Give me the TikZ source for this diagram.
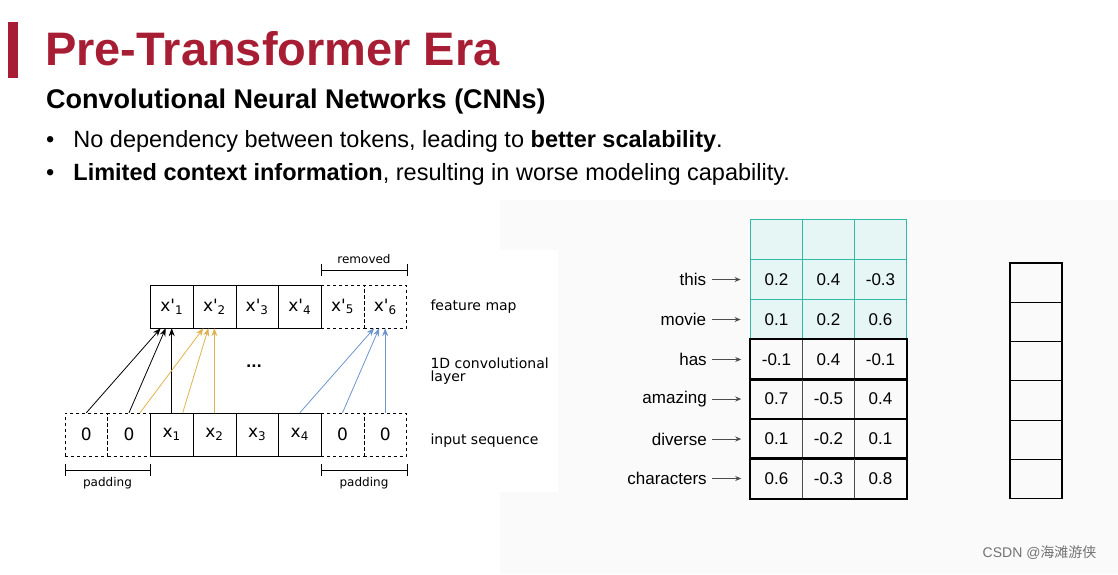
\documentclass[tikz,border=0pt]{standalone}
\usepackage{fontspec}
\setmainfont{Liberation Sans}
\newfontfamily\dvs{DejaVu Sans}
\newfontfamily\cjk{Noto Sans CJK SC}
\usetikzlibrary{arrows.meta}
\definecolor{titlered}{RGB}{167,30,52}
\definecolor{tealb}{RGB}{50,185,165}
\definecolor{tealf}{RGB}{230,246,244}
\definecolor{ylw}{RGB}{222,180,80}
\definecolor{blu}{RGB}{110,150,205}
\tikzset{
 cell/.style={draw,minimum width=42.7pt,minimum height=43pt,inner sep=0pt,font=\dvs\fontsize{17}{17}\selectfont},
 dcell/.style={cell,dashed},
 conn/.style={-{Stealth[length=8pt,width=6pt]},line width=0.8pt},
 lbl/.style={anchor=west,font=\dvs\fontsize{14}{16}\selectfont,align=left},
 small/.style={font=\dvs\fontsize{12}{12}\selectfont},
 tcell/.style={draw,minimum width=52pt,minimum height=40pt,inner sep=0pt,font=\fontsize{17}{17}\selectfont},
 teal/.style={tcell,draw=tealb,fill=tealf,line width=1.8pt},
 word/.style={anchor=east,font=\fontsize{17}{17}\selectfont},
 warr/.style={-{Stealth[length=6pt,width=5pt]},line width=0.9pt,gray!60!black},
}
\begin{document}
\begin{tikzpicture}[x=1pt,y=-1pt]
\useasboundingbox (0,0) rectangle (1118,574);
\fill[white] (0,0) rectangle (1118,574);
\fill[black!2] (500,200) rectangle (1118,574);
\fill[white] (40,250) rectangle (558,492);
% title
\fill[titlered] (8,22) rectangle (18,78);
\node[anchor=base west,inner sep=0,text=titlered,font=\bfseries\fontsize{47}{47}\selectfont] (title) at (45,65) {Pre-Transformer Era};
\node[anchor=base west,inner sep=0,font=\bfseries\fontsize{27}{27}\selectfont] (sub) at (46,108) {Convolutional Neural Networks (CNNs)};
\node[anchor=base west,inner sep=0,font=\fontsize{23.5}{23.5}\selectfont] (b1) at (46,147) {•\hspace{19pt}No dependency between tokens, leading to \textbf{better scalability}.};
\node[anchor=base west,inner sep=0,font=\fontsize{23.5}{23.5}\selectfont] (b2) at (46,180) {•\hspace{19pt}\textbf{Limited context information}, resulting in worse modeling capability.};
% input sequence
\node[dcell] (i1) at (86.3,434.5) {0};
\node[dcell] (i2) at (129,434.5) {0};
\node[cell] (i3) at (171.7,434.5) {x\textsubscript{1}};
\node[cell] (i4) at (214.4,434.5) {x\textsubscript{2}};
\node[cell] (i5) at (257.1,434.5) {x\textsubscript{3}};
\node[cell] (i6) at (299.8,434.5) {x\textsubscript{4}};
\node[dcell] (i7) at (342.5,434.5) {0};
\node[dcell] (i8) at (385.2,434.5) {0};
% feature map
\node[cell] (f1) at (171.7,306.5) {x'\textsubscript{1}};
\node[cell] (f2) at (214.4,306.5) {x'\textsubscript{2}};
\node[cell] (f3) at (257.1,306.5) {x'\textsubscript{3}};
\node[cell] (f4) at (299.8,306.5) {x'\textsubscript{4}};
\node[dcell] (f5) at (342.5,306.5) {x'\textsubscript{5}};
\node[dcell] (f6) at (385.2,306.5) {x'\textsubscript{6}};
% connections
\draw[conn] (i1.north) -- ([xshift=-11pt]f1.south);
\draw[conn] (i2.north) -- ([xshift=-6pt]f1.south);
\draw[conn] (i3.north) -- (f1.south);
\draw[conn,ylw] ([xshift=11pt]i2.north) -- ([xshift=-11pt]f2.south);
\draw[conn,ylw] ([xshift=11pt]i3.north) -- ([xshift=-6pt]f2.south);
\draw[conn,ylw] (i4.north) -- (f2.south);
\draw[conn,blu] (i6.north) -- ([xshift=-11pt]f6.south);
\draw[conn,blu] (i7.north) -- ([xshift=-6pt]f6.south);
\draw[conn,blu] (i8.north) -- (f6.south);
\node[font=\dvs\bfseries\fontsize{14}{14}\selectfont] (dots) at (254,366) {...};
% labels
\node[lbl] (lf) at (427,307) {feature map};
\node[lbl] (lc) at (427,371) {1D convolutional\\[-3pt]layer};
\node[lbl] (li) at (427,441) {input sequence};
% brackets
\draw[line width=0.7pt] (65,464)--(65,476) (65,470)--(150,470) (150,464)--(150,476);
\node[small] (p1) at (107.5,483) {padding};
\draw[line width=0.7pt] (321,464)--(321,476) (321,470)--(407,470) (407,464)--(407,476);
\node[small] (p2) at (364,483) {padding};
\draw[line width=0.7pt] (321,264)--(321,276) (321,270)--(407,270) (407,264)--(407,276);
\node[small] (rm) at (364,259) {removed};
% table
\foreach \r/\a/\b/\c in {0/{}/{}/{},1/0.2/0.4/-0.3,2/0.1/0.2/0.6}{
 \node[teal] (t\r a) at (776.5,239.5+40*\r) {\a};
 \node[teal] (t\r b) at (828.5,239.5+40*\r) {\b};
 \node[teal] (t\r c) at (880.5,239.5+40*\r) {\c};
}
\foreach \r/\y/\a/\b/\c in {3/359.5/-0.1/0.4/-0.1,4/399/0.7/-0.5/0.4,5/439/0.1/-0.2/0.1,6/478.5/0.6/-0.3/0.8}{
 \node[tcell,draw=black!70,line width=0.5pt] (t\r a) at (776.5,\y) {\a};
 \node[tcell,draw=black!70,line width=0.5pt] (t\r b) at (828.5,\y) {\b};
 \node[tcell,draw=black!70,line width=0.5pt] (t\r c) at (880.5,\y) {\c};
 \draw[line width=1.8pt] (t\r a.north west) rectangle (t\r c.south east);
}
\foreach \r/\w in {1/this,2/movie,3/has,4/amazing,5/diverse,6/characters}{
 \coordinate (e\r) at ([xshift=-9pt]t\r a.west);
 \node[word] (w\r) at ([xshift=-40pt]t\r a.west) {\w};
 \draw[warr] ([xshift=2pt]w\r.east) -- (e\r);
}
% vector
\foreach \k in {0,...,5}{
 \node[draw,line width=0.6pt,minimum width=52pt,minimum height=39.2pt,inner sep=0] (v\k) at (1036,282.6+39.2*\k) {};
}
\draw[line width=1.8pt] (v0.north west) rectangle (v5.south east);
% watermark
\node[anchor=east,text=black!55,font=\fontsize{14}{14}\selectfont] (wm) at (1100,553) {CSDN @{\cjk 海滩游侠}};
\end{tikzpicture}
\end{document}
